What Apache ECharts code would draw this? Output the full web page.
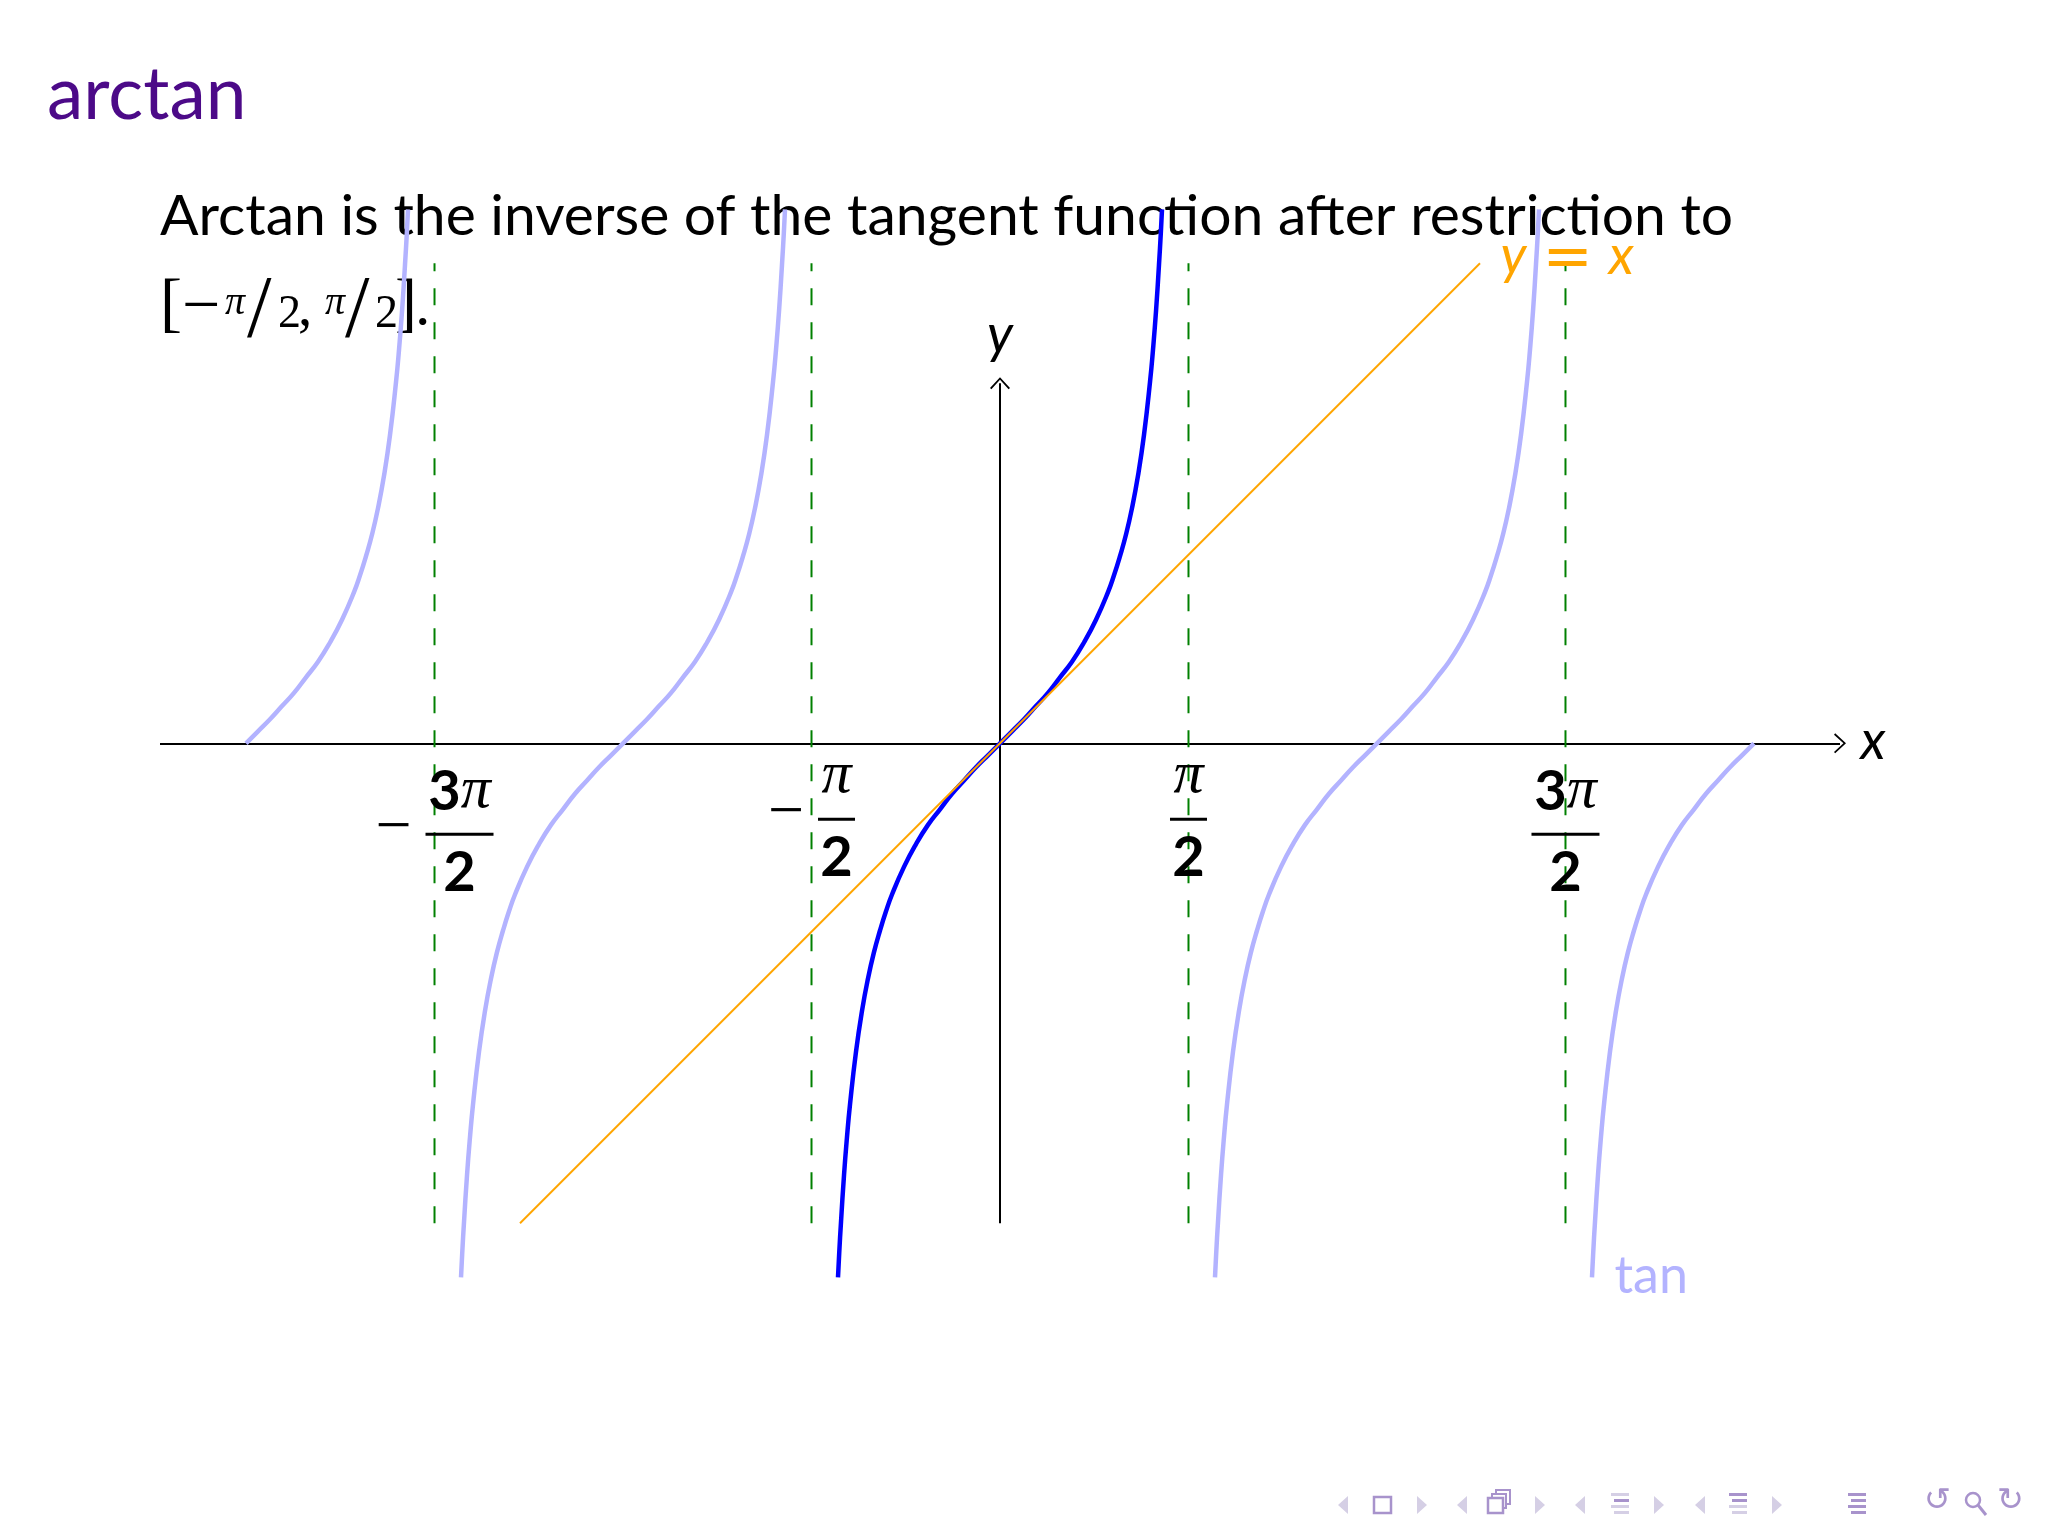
<!DOCTYPE html>
<html>
<head>
<meta charset="utf-8">
<script src="https://cdn.jsdelivr.net/npm/echarts@6/dist/echarts.min.js"></script>
<style>html,body{margin:0;padding:0;background:#ffffff;}#c{width:2048px;height:1536px;}</style>
</head>
<body>
<div id="c"></div>
<script>
const PI = Math.PI;

// ---- data ----
const xAxisLine = [[-7, 0], [7, 0]];
const yAxisLine = [[0, -4], [0, 3]];
const asymptoteX = [-3 * PI / 2, -PI / 2, PI / 2, 3 * PI / 2];
const asymptoteSpan = [-4, 4];
const tickValues = [-3 * PI / 2, -PI / 2, PI / 2, 3 * PI / 2];
const tickLabels = ['−3π/2', '−π/2', 'π/2', '3π/2'];
const identityLine = [[-4, -4], [4, 4]];
// central tan branch
const tanX = [-1.35, -1.34, -1.325, -1.3, -1.275, -1.25, -1.2, -1.15, -1.1, -1.05, -1.0, -0.95, -0.9, -0.8, -0.7, -0.6, -0.5, -0.4, -0.3, -0.2, -0.1, 0,
              0.1, 0.2, 0.3, 0.4, 0.5, 0.6, 0.7, 0.8, 0.9, 0.95, 1.0, 1.05, 1.1, 1.15, 1.2, 1.25, 1.275, 1.3, 1.325, 1.34, 1.35];
const tanY = [-4.45, -4.25, -3.99, -3.60, -3.28, -3.01, -2.57, -2.23, -1.96, -1.74, -1.56, -1.40, -1.26, -1.03, -0.84, -0.68, -0.55, -0.42, -0.31, -0.20, -0.10, 0,
              0.10, 0.20, 0.31, 0.42, 0.55, 0.68, 0.84, 1.03, 1.26, 1.40, 1.56, 1.74, 1.96, 2.23, 2.57, 3.01, 3.28, 3.60, 3.99, 4.25, 4.45];
const lightShifts = [-2 * PI, -PI, PI, 2 * PI];
const plotDomain = [-2 * PI, 2 * PI];
const axisNames = ['x', 'y'];
const curveNames = ['y = x', 'tan'];

// ---- colours ----
const C_AXIS = '#000000', C_GREEN = '#008000', C_LIGHT = '#b3b3ff', C_BLUE = '#0000ff', C_ORANGE = '#ffa500';

const centralBranch = tanX.map((x, i) => [x, tanY[i]]);
const lightBranches = lightShifts.map(s => tanX.map((x, i) => [x + s, tanY[i]])
  .filter(p => p[0] >= plotDomain[0] - 1e-9 && p[0] <= plotDomain[1] + 1e-9));

function fracText(s) {
  const neg = s.startsWith('−');
  const body = neg ? s.slice(1) : s;
  const parts = body.split('/');
  const coef = parts[0].replace('π', '');
  const bar = coef ? 'barW' : 'barN';
  const lead = neg ? '{sp|}' : '';
  const l1 = lead + (coef ? '{n|' + coef + '}' : '') + '{pi|π}';
  const l2 = (neg ? '{mn|−}' : '') + '{' + bar + '|}';
  const l3 = lead + '{d|' + parts[1] + '}';
  return l1 + '\n' + l2 + '\n' + l3;
}
const fracRich = {
  sp: {width: 50, lineHeight: 1, align: 'left', verticalAlign: 'middle'},
  n: {fontFamily: 'Lato', fontWeight: 'bold', fontSize: 56, color: '#000', lineHeight: 60, align: 'center', verticalAlign: 'middle', padding: [12, 0, 0, 0]},
  pi: {fontFamily: 'Liberation Serif', fontStyle: 'italic', fontSize: 60, color: '#000', lineHeight: 60, align: 'center', verticalAlign: 'middle', padding: [10, 0, 0, 0]},
  mn: {fontFamily: 'Liberation Serif', fontSize: 64, color: '#000', width: 50, lineHeight: 36, align: 'left', verticalAlign: 'middle', padding: [0, 0, 10, 0]},
  barW: {width: 68, height: 3, backgroundColor: '#000', lineHeight: 36, align: 'left', verticalAlign: 'middle'},
  barN: {width: 37, height: 3, backgroundColor: '#000', lineHeight: 36, align: 'left', verticalAlign: 'middle'},
  d: {fontFamily: 'Lato', fontWeight: 'bold', fontSize: 56, color: '#000', lineHeight: 36, align: 'center', verticalAlign: 'middle', padding: [5, 0, 0, 0]}
};

const annRich = {
  i: {fontFamily: 'Lato', fontStyle: 'italic', fontSize: 54, lineHeight: 53, verticalAlign: 'middle'},
  eq: {fontFamily: 'DejaVu Sans', fontSize: 60, lineHeight: 53, verticalAlign: 'middle', padding: [9, 16, 0, 16]},
  t: {fontFamily: 'Lato', fontSize: 52, lineHeight: 52, verticalAlign: 'middle'}
};

const series = [];
asymptoteX.forEach(x => {
  series.push({
    type: 'line', silent: true, showSymbol: false, z: 1,
    data: asymptoteSpan.map(y => [x, y]),
    lineStyle: {color: C_GREEN, width: 2, type: [17, 17]}
  });
});
lightBranches.forEach(b => {
  series.push({
    type: 'line', silent: true, showSymbol: false, z: 2, smooth: 0.5,
    data: b, lineStyle: {color: C_LIGHT, width: 4.5}
  });
});
series.push({
  type: 'line', silent: true, showSymbol: false, z: 3, smooth: 0.5,
  data: centralBranch, lineStyle: {color: C_BLUE, width: 4.5}
});
series.push({
  type: 'line', silent: true, showSymbol: false, z: 4,
  data: identityLine, lineStyle: {color: C_ORANGE, width: 2},
  markLine: {
    silent: true, z: 1, animation: false,
    symbol: ['none', 'path://M10,0 L20,11 L18.6,12.2 L10,2.6 L1.4,12.2 L0,11 Z'],
    symbolSize: [20, 12],
    label: {show: false},
    lineStyle: {color: C_AXIS, width: 2, type: 'solid'},
    emphasis: {disabled: true},
    data: [
      [{coord: xAxisLine[0]}, {coord: xAxisLine[1]}],
      [{coord: yAxisLine[0]}, {coord: yAxisLine[1]}]
    ]
  }
});
// tick labels
series.push({
  type: 'scatter', silent: true, z: 6, symbolSize: 1,
  itemStyle: {color: 'rgba(0,0,0,0)'},
  data: tickValues.map((v, i) => ({
    value: [v, 0],
    label: {distance: /\d/.test(tickLabels[i].split('/')[0]) ? 12.5 : -2.5}
  })),
  label: {
    show: true, position: 'bottom', color: '#000', opacity: 1, textBorderWidth: 0,
    formatter: p => fracText(tickLabels[p.dataIndex]),
    rich: fracRich
  }
});
// annotations
const lastBranch = lightBranches[lightBranches.length - 1];
series.push({
  type: 'scatter', silent: true, z: 6, symbolSize: 1,
  itemStyle: {color: 'rgba(0,0,0,0)'},
  data: [
    {value: xAxisLine[1], label: {position: 'right', distance: 20, offset: [0, -2], color: '#000', formatter: '{i|' + axisNames[0] + '}'}},
    {value: yAxisLine[1], label: {position: 'top', distance: 21, color: '#000', formatter: '{i|' + axisNames[1] + '}'}},
    {value: identityLine[1], label: {position: 'right', distance: 20, offset: [0, -7], color: C_ORANGE,
      formatter: curveNames[0].split(' ').map(t => t === '=' ? '{eq|=}' : '{i|' + t + '}').join('')}},
    {value: lastBranch[0], label: {position: 'right', distance: 22, offset: [0, -1], color: C_LIGHT, formatter: '{t|' + curveNames[1] + '}'}}
  ],
  label: {show: true, opacity: 1, textBorderWidth: 0, rich: annRich}
});

// ---- slide text and navigation ----
const navLight = '#d5cfe5', navDark = '#a893cc';
function triL(cx) { return {type: 'polygon', shape: {points: [[cx + 5, 1496], [cx - 5, 1505], [cx + 5, 1514]]}, style: {fill: navLight}}; }
function triR(cx) { return {type: 'polygon', shape: {points: [[cx - 5, 1496], [cx + 5, 1505], [cx - 5, 1514]]}, style: {fill: navLight}}; }
function bars(cx, cols) {
  return cols.map((c, k) => ({type: 'rect', shape: {x: cx - 9 + (k % 2 ? 3 : 0), y: 1493 + k * 6, width: k % 2 ? 15 : 18, height: 3}, style: {fill: c}}));
}
const nav = [
  triL(1343), {type: 'rect', shape: {x: 1374, y: 1497, width: 17, height: 16}, style: {fill: 'none', stroke: navDark, lineWidth: 2.5}}, triR(1422),
  triL(1462),
  {type: 'rect', shape: {x: 1496, y: 1490, width: 14, height: 14}, style: {fill: '#fff', stroke: navDark, lineWidth: 2}},
  {type: 'rect', shape: {x: 1492, y: 1494, width: 14, height: 14}, style: {fill: '#fff', stroke: navDark, lineWidth: 2}},
  {type: 'rect', shape: {x: 1488, y: 1498, width: 15, height: 15}, style: {fill: '#fff', stroke: navDark, lineWidth: 2.5}},
  triR(1540),
  triL(1580), ...bars(1620, [navLight, navDark, navLight, navLight]), triR(1659),
  triL(1700), ...bars(1738, [navDark, navDark, navLight, navLight]), triR(1777),
  ...bars(1857, [navDark, navDark, navDark, navDark]),
  {type: 'text', left: 1924, top: 1486, style: {text: '↺', fontFamily: 'DejaVu Sans', fontSize: 32, fill: navDark}},
  {type: 'circle', shape: {cx: 1973, cy: 1500, r: 7}, style: {fill: 'none', stroke: navDark, lineWidth: 2.5}},
  {type: 'line', shape: {x1: 1978, y1: 1505, x2: 1986, y2: 1515}, style: {stroke: navDark, lineWidth: 3}},
  {type: 'text', left: 1997, top: 1486, style: {text: '↻', fontFamily: 'DejaVu Sans', fontSize: 32, fill: navDark}}
];

const line2 = '{br|[}{mi|−}{pn|π}{sl|/}{dn|2}{cm|,}{pn2|π}{sl2|/}{dn|2}{br2|]}{dt|.}';
const serif = 'Liberation Serif';
const line2Rich = {
  br: {fontFamily: serif, fontSize: 66, lineHeight: 70, width: 22, align: 'left', verticalAlign: 'middle'},
  br2: {fontFamily: serif, fontSize: 66, lineHeight: 70, width: 21, align: 'left', verticalAlign: 'middle'},
  mi: {fontFamily: serif, fontSize: 68, lineHeight: 70, width: 43, align: 'left', verticalAlign: 'middle', padding: [4, 0, 0, 0]},
  pn: {fontFamily: serif, fontStyle: 'italic', fontSize: 40, lineHeight: 70, width: 22, align: 'left', verticalAlign: 'middle', padding: [0, 0, 7, 0]},
  pn2: {fontFamily: serif, fontStyle: 'italic', fontSize: 40, lineHeight: 70, width: 20, align: 'left', verticalAlign: 'middle', padding: [0, 0, 7, 0]},
  sl: {fontFamily: serif, fontSize: 88, lineHeight: 70, width: 31, align: 'left', verticalAlign: 'middle', padding: [12, 0, 0, 0]},
  sl2: {fontFamily: serif, fontSize: 88, lineHeight: 70, width: 30, align: 'left', verticalAlign: 'middle', padding: [12, 0, 0, 0]},
  dn: {fontFamily: serif, fontSize: 46, lineHeight: 70, width: 20, align: 'left', verticalAlign: 'middle', padding: [16, 0, 0, 0]},
  cm: {fontFamily: serif, fontSize: 57, lineHeight: 70, width: 27, align: 'left', verticalAlign: 'middle', padding: [6, 0, 0, 0]},
  dt: {fontFamily: 'Lato', fontSize: 57, lineHeight: 70, align: 'left', verticalAlign: 'middle'}
};

const option = {
  animation: false,
  backgroundColor: '#ffffff',
  grid: {left: 160, top: 143.3, width: 1680, height: 1200},
  xAxis: {type: 'value', min: -7, max: 7, show: false},
  yAxis: {type: 'value', min: -5, max: 5, show: false},
  graphic: [
    {type: 'text', left: 47, top: 59, z: 0, style: {text: 'arctan', fontFamily: 'Lato', fontSize: 73, lineHeight: 73, fill: '#4c0a88'}},
    {type: 'text', left: 160, top: 188.5, z: 0, style: {text: 'Arctan is the inverse of the tangent function after restriction to', fontFamily: 'Lato', fontSize: 57, lineHeight: 57, fill: '#000'}},
    {type: 'text', left: 160, top: 257, z: 0, style: {text: line2, rich: line2Rich, fill: '#000'}},
    ...nav
  ],
  series: series
};

const chart = echarts.init(document.getElementById('c'), null, {renderer: 'canvas', width: 2048, height: 1536});
chart.setOption(option);
</script>
</body>
</html>
